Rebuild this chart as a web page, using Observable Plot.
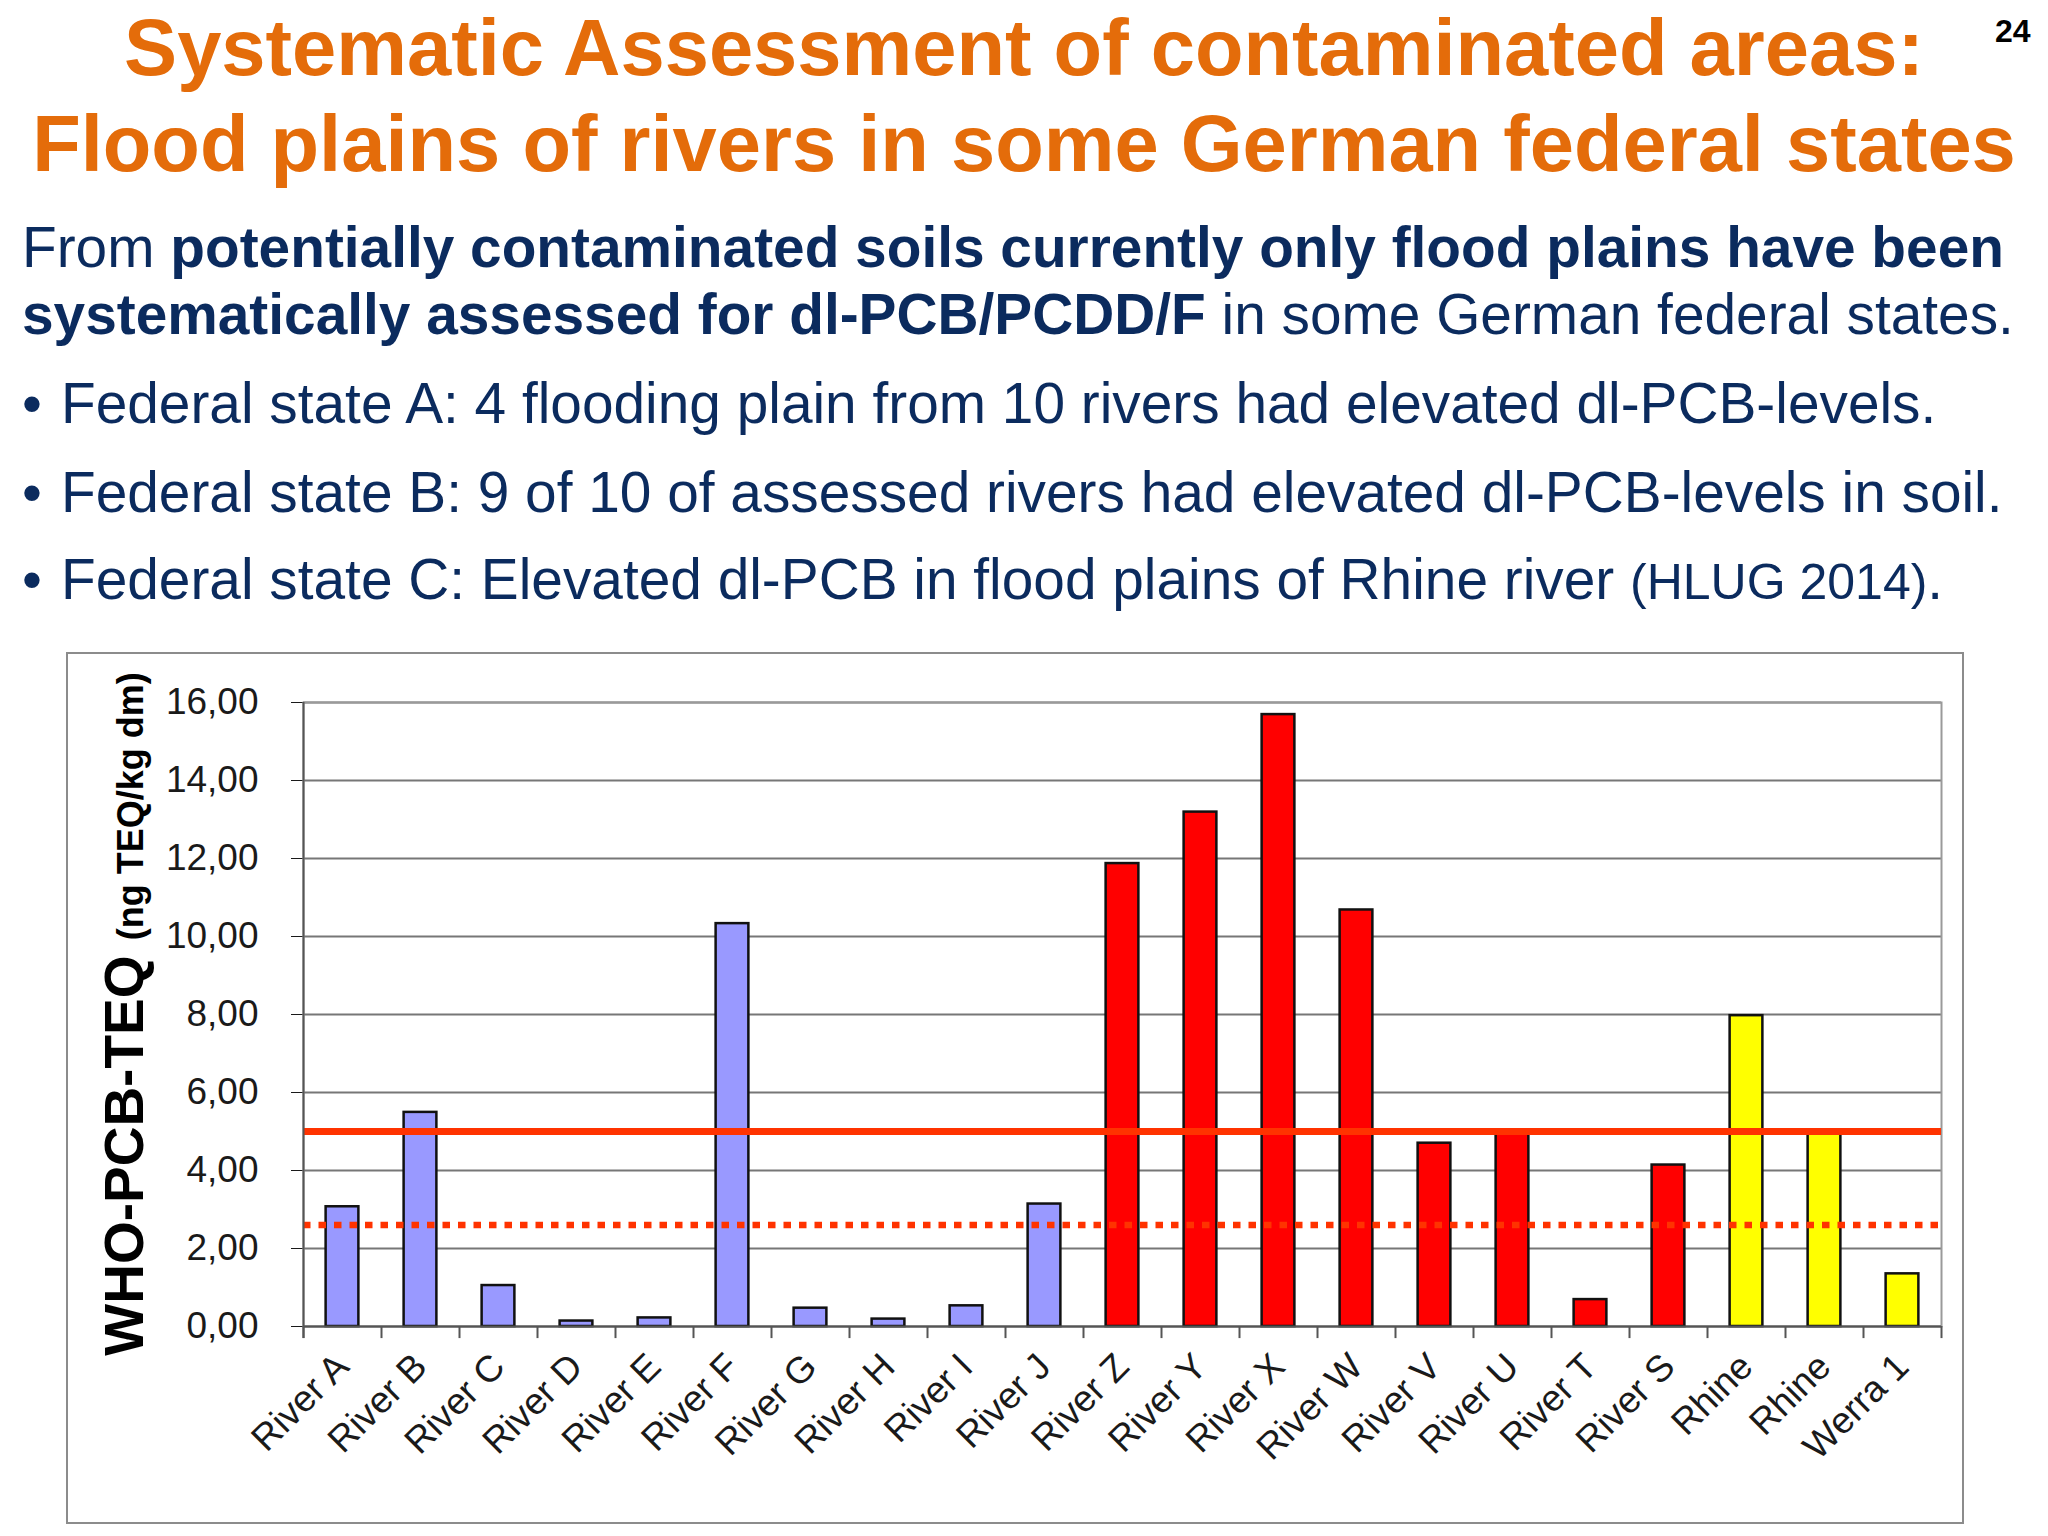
<!DOCTYPE html>
<html><head><meta charset="utf-8">
<script src="https://cdn.jsdelivr.net/npm/d3@7"></script>
<script src="https://cdn.jsdelivr.net/npm/@observablehq/plot@0.6"></script>
<style>
body{margin:0;background:#fff;width:2048px;height:1536px;position:relative;overflow:hidden;font-family:"Liberation Sans",Arial,sans-serif;}
.t{position:absolute;white-space:nowrap;line-height:1;}
.title{color:#e46c0a;font-weight:bold;font-size:79.5px;left:0;width:2048px;text-align:center;}
.body{color:#0b2b5e;font-size:56.8px;left:22px;}
.bul{display:inline-block;width:39px;}
#chart{position:absolute;left:66px;top:652px;width:1894px;height:868px;border:2px solid #8c8c8c;}
</style></head><body>
<div class="t title" style="top:8px">Systematic Assessment of contaminated areas:</div>
<div class="t title" style="top:104px">Flood plains of rivers in some German federal states</div>
<div class="t" style="top:15px;left:1995px;font-size:32px;font-weight:bold;color:#000">24</div>
<div class="t body" style="top:220px">From <b>potentially contaminated soils currently only flood plains have been</b></div>
<div class="t body" style="top:287px"><b>systematically assessed for dl-PCB/PCDD/F</b> in some German federal states.</div>
<div class="t body" style="top:376px"><span class="bul">•</span>Federal state A: 4 flooding plain from 10 rivers had elevated dl-PCB-levels.</div>
<div class="t body" style="top:465px"><span class="bul">•</span>Federal state B: 9 of 10 of assessed rivers had elevated dl-PCB-levels in soil.</div>
<div class="t body" style="top:552px"><span class="bul">•</span>Federal state C: Elevated dl-PCB in flood plains of Rhine river <span style="font-size:50px">(HLUG 2014)</span>.</div>
<div id="chart"></div>
<script>
const categories = ["River A","River B","River C","River D","River E","River F","River G","River H","River I","River J","River Z","River Y","River X","River W","River V","River U","River T","River S","Rhine","Rhine","Werra 1"];
const values = [3.07, 5.49, 1.05, 0.14, 0.22, 10.33, 0.47, 0.19, 0.53, 3.14, 11.87, 13.19, 15.69, 10.68, 4.70, 4.98, 0.69, 4.14, 7.97, 4.97, 1.35];
const states = ["A","A","A","A","A","A","A","A","A","A","B","B","B","B","B","B","B","B","C","C","C"];
const stateKeys = ["A","B","C"];
const stateColors = ["#9999ff","#ff0000","#ffff00"];
const yTicks = [0,2,4,6,8,10,12,14,16];
const limitSolid = 5.0;
const limitDotted = 2.6;

const idx = categories.map((c, i) => i);
const rows = categories.map((c, i) => ({i, label: c, value: values[i], state: states[i]}));

const W = 1894, H = 868, ML = 235, MR = 21, MT = 48, MB = 196;
const step = (W - ML - MR) / categories.length;
const tickDrop = -0.31;

const chart = Plot.plot({
  width: W, height: H,
  marginLeft: ML, marginRight: MR, marginTop: MT, marginBottom: MB,
  style: {fontFamily: "'Liberation Sans', Arial, sans-serif", fontSize: "37px", color: "#1a1a1a", background: "transparent", overflow: "visible"},
  x: {type: "band", domain: idx, paddingInner: 0.58, paddingOuter: 0.29, round: false, tickRotate: -45, tickSize: 0, tickPadding: 34, tickFormat: i => categories[i], label: null},
  y: {domain: [0, 16], ticks: yTicks, tickSize: 12, tickPadding: 33, tickFormat: d => d.toFixed(2).replace(".", ","), label: null},
  color: {domain: stateKeys, range: stateColors},
  marks: [
    Plot.ruleY(yTicks, {stroke: "#777", strokeWidth: 2}),
    Plot.frame({stroke: "#9a9a9a", strokeWidth: 2}),
    Plot.barY(rows, {x: "i", y: "value", fill: "state", stroke: "#111", strokeWidth: 2.5}),
    Plot.ruleY([limitSolid], {stroke: "#ff3300", strokeWidth: 7}),
    Plot.ruleY([limitDotted], {stroke: "#ff3300", strokeWidth: 6.5, strokeDasharray: "7.5,8"}),
    Plot.ruleY([0], {stroke: "#555", strokeWidth: 2}),
    Plot.ruleX(idx, {x: d => d, y1: 0, y2: tickDrop, dx: -step / 2, stroke: "#555", strokeWidth: 2}),
    Plot.ruleX([idx[idx.length - 1]], {x: d => d, y1: 0, y2: tickDrop, dx: step / 2, stroke: "#555", strokeWidth: 2}),
    Plot.ruleX([idx[0]], {x: d => d, y1: tickDrop, y2: 16, dx: -step / 2, stroke: "#555", strokeWidth: 2})
  ]
});

const svg = d3.select(chart);
const t = svg.append("text")
  .attr("transform", `translate(75, ${(MT + H - MB) / 2}) rotate(-90)`)
  .attr("text-anchor", "middle")
  .attr("font-weight", "bold")
  .attr("fill", "#000");
t.append("tspan").attr("font-size", 55).text("WHO-PCB-TEQ ");
t.append("tspan").attr("font-size", 36).text("(ng TEQ/kg dm)");

document.getElementById("chart").appendChild(chart);
</script>
</body></html>
